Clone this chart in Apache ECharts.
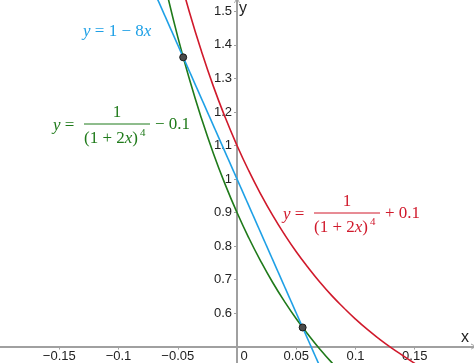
<!DOCTYPE html>
<html><head><meta charset="utf-8">
<script src="https://cdn.jsdelivr.net/npm/echarts@6/dist/echarts.min.js"></script>
<style>html,body{margin:0;padding:0;background:#fff}#c{width:474px;height:363px}</style>
</head><body><div id="c"></div>
<script>
// ---- data ----
const redX = [-0.05,-0.04,-0.03,-0.02,-0.01,0,0.01,0.02,0.03,0.04,0.05,0.06,0.07,0.08,0.09,0.10,0.11,0.12,0.13,0.14,0.15,0.16];
const redY = [1.624,1.496,1.381,1.277,1.184,1.100,1.024,0.955,0.892,0.835,0.783,0.736,0.692,0.652,0.616,0.582,0.551,0.523,0.497,0.473,0.450,0.429];
const greenX = [-0.07,-0.06,-0.05,-0.04,-0.03,-0.02,-0.01,0,0.01,0.02,0.03,0.04,0.05,0.06,0.07,0.08,0.09];
const greenY = [1.728,1.568,1.424,1.296,1.181,1.077,0.984,0.900,0.824,0.755,0.692,0.635,0.583,0.536,0.492,0.452,0.416];
const blueX = [-0.07, 0.07];
const blueY = [1.56, 0.44];
const pointX = [-0.0454, 0.0554];
const pointY = [1.363, 0.557];
const xRange = [-0.2, 0.2];
const yRangeFull = [0.451, 1.534];
const yAxisMin = 0.5;
const xStep = 0.05;
const yStep = 0.1;

const W = 474, H = 363;
const RED = '#d0192b', GREEN = '#1f7a1a', BLUE = '#1ea0e6', AXIS = '#a0a0a0';
const zip = (a, b) => a.map((v, i) => [v, b[i]]);
const isMult = (v, s) => Math.abs(v / s - Math.round(v / s)) < 1e-6;
const fmt = v => String(+v.toFixed(4)).replace('-', '\u2212');
const serif = '"Liberation Serif", "DejaVu Serif", serif';
const sans = '"Liberation Sans", Arial, sans-serif';
const chevron = 'path://M0,10 L5,0 L10,10 L8.6,10 L5,3 L1.4,10 Z';
// pixel offsets of the axes inside the full-canvas grid
const zeroLeft = W * (0 - xRange[0]) / (xRange[1] - xRange[0]);
const xAxisBottom = H * (yAxisMin - yRangeFull[0]) / (yRangeFull[1] - yRangeFull[0]);

function fracLabel(x0, yLine, color, tail) {
  const f = (s) => ({ fill: color, fontFamily: serif, fontSize: s });
  return [
    { type: 'text', x: x0, y: yLine + 2, style: Object.assign(f(17), { text: '{i|y} =', verticalAlign: 'middle', align: 'left', rich: { i: { fontStyle: 'italic', fontFamily: serif, fontSize: 17, fill: color } } }) },
    { type: 'text', x: x0 + 64, y: yLine - 11, style: Object.assign(f(17), { text: '1', verticalAlign: 'middle', align: 'center' }) },
    { type: 'line', shape: { x1: x0 + 31, y1: yLine, x2: x0 + 97, y2: yLine }, style: { stroke: color, lineWidth: 1 } },
    { type: 'text', x: x0 + 31, y: yLine + 15, style: Object.assign(f(17), { text: '(1 + 2{i|x})', verticalAlign: 'middle', align: 'left', rich: { i: { fontStyle: 'italic', fontFamily: serif, fontSize: 17, fill: color } } }) },
    { type: 'text', x: x0 + 87, y: yLine + 9, style: Object.assign(f(11), { text: '4', verticalAlign: 'middle', align: 'left' }) },
    { type: 'text', x: x0 + 102, y: yLine + 1, style: Object.assign(f(17), { text: tail, verticalAlign: 'middle', align: 'left' }) }
  ];
}

const gridBase = { containLabel: false, outerBoundsMode: 'none' };
const chart = echarts.init(document.getElementById('c'), null, { renderer: 'canvas' });
chart.setOption({
  animation: false,
  backgroundColor: '#fff',
  grid: [
    Object.assign({ left: 0, right: 0, top: 0, bottom: 0 }, gridBase),
    Object.assign({ left: 0, right: 0, top: 0, bottom: xAxisBottom }, gridBase),
    Object.assign({ left: zeroLeft, right: 0, top: 0, bottom: xAxisBottom }, gridBase)
  ],
  xAxis: [
    { type: 'value', gridIndex: 0, min: xRange[0], max: xRange[1], show: false },
    { type: 'value', gridIndex: 1, min: xRange[0], max: xRange[1], interval: xStep, position: 'bottom',
      name: 'x', nameLocation: 'end', nameGap: -13,
      nameTextStyle: { color: '#222', fontSize: 16, fontFamily: sans, align: 'left', verticalAlign: 'bottom', padding: [0, 0, 1, 0] },
      axisLine: { onZero: false, lineStyle: { color: AXIS, width: 2 }, symbol: ['none', chevron], symbolSize: [9, 6] },
      axisTick: { show: true, length: 3, lineStyle: { color: AXIS } },
      splitLine: { show: false },
      axisLabel: { margin: 3, color: '#222', fontSize: 13, fontFamily: sans, hideOverlap: false,
        showMinLabel: false, showMaxLabel: false,
        formatter: v => (Math.abs(v) < 1e-9 ? '{z|0}' : (isMult(v, xStep) ? fmt(v) : '')),
        rich: { z: { padding: [0, 0, 0, 14], fontSize: 13, color: '#222', fontFamily: sans } } } },
    { type: 'value', gridIndex: 2, min: 0, max: xRange[1], show: false }
  ],
  yAxis: [
    { type: 'value', gridIndex: 0, min: yRangeFull[0], max: yRangeFull[1],
      axisLine: { show: true, onZero: true, lineStyle: { color: AXIS, width: 2 } },
      axisTick: { show: false }, axisLabel: { show: false }, splitLine: { show: false } },
    { type: 'value', gridIndex: 1, min: yAxisMin, max: yRangeFull[1], show: false },
    { type: 'value', gridIndex: 2, min: yAxisMin, max: yRangeFull[1], interval: yStep, position: 'left',
      name: 'y', nameLocation: 'end', nameGap: -17,
      nameTextStyle: { color: '#222', fontSize: 16, fontFamily: sans, align: 'left', verticalAlign: 'bottom', padding: [0, 0, 0, 2] },
      axisLine: { show: true, onZero: false, lineStyle: { color: AXIS, width: 2 }, symbol: ['none', chevron], symbolSize: [9, 6] },
      axisTick: { show: true, length: 3, lineStyle: { color: AXIS } },
      splitLine: { show: false },
      axisLabel: { margin: 5, color: '#222', fontSize: 13, fontFamily: sans, hideOverlap: false,
        showMaxLabel: false,
        formatter: v => (isMult(v, yStep) && Math.abs(v - yAxisMin) > 1e-9 ? fmt(v) : '') } }
  ],
  series: [
    { type: 'line', xAxisIndex: 0, yAxisIndex: 0, data: zip(redX, redY), smooth: true, showSymbol: false, lineStyle: { color: RED, width: 1.6 }, z: 3 },
    { type: 'line', xAxisIndex: 0, yAxisIndex: 0, data: zip(greenX, greenY), smooth: true, showSymbol: false, lineStyle: { color: GREEN, width: 1.6 }, z: 3 },
    { type: 'line', xAxisIndex: 0, yAxisIndex: 0, data: zip(blueX, blueY), showSymbol: false, lineStyle: { color: BLUE, width: 1.6 }, z: 4 },
    { type: 'scatter', xAxisIndex: 0, yAxisIndex: 0, data: zip(pointX, pointY), symbolSize: 7,
      itemStyle: { color: '#4a4a4a', borderColor: '#1a1a1a', borderWidth: 1, opacity: 1 }, z: 6 }
  ],
  graphic: [
    { type: 'text', x: 83, y: 32, style: { text: '{i|y} = 1 \u2212 8{i|x}', fill: BLUE, fontFamily: serif, fontSize: 17, verticalAlign: 'middle', align: 'left',
      rich: { i: { fontStyle: 'italic', fontFamily: serif, fontSize: 17, fill: BLUE } } } }
  ].concat(fracLabel(53, 124, GREEN, '\u2212 0.1'), fracLabel(283, 213, RED, '+ 0.1'))
});
</script>
</body></html>
